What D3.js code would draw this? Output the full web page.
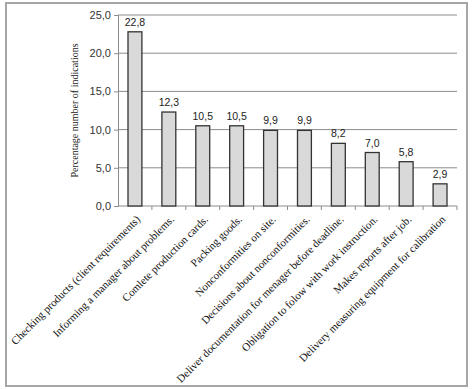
<!DOCTYPE html>
<html>
<head>
<meta charset="utf-8">
<script src="https://cdn.jsdelivr.net/npm/d3@7"></script>
<style>
  body { margin: 0; background: #fff; }
</style>
</head>
<body>
<script>
var categories = ["Checking products (client requirements)",
                  "Informing a manager about problems.",
                  "Comlete production cards.",
                  "Packing goods.",
                  "Nonconformities on site.",
                  "Decisions about nonconformities.",
                  "Deliver documentation for menager before deadline.",
                  "Obligation to folow with work instruction.",
                  "Makes reports after job.",
                  "Delivery measuring equipment for calibration"];
var values = [22.8, 12.3, 10.5, 10.5, 9.9, 9.9, 8.2, 7.0, 5.8, 2.9];
var yTicks = [0, 5, 10, 15, 20, 25];

var width = 474,
    height = 389;

// plot area (note: "top" is taken by window.top, so use plot*)
var plotLeft = 118, plotRight = 457, plotTop = 15, plotBottom = 206;

var svg = d3.select("body")
            .append("svg")
            .attr("width", width)
            .attr("height", height);

// outer frame
svg.append("rect")
   .attr("x", 6).attr("y", 3)
   .attr("width", 461).attr("height", 383)
   .attr("fill", "#fff")
   .attr("stroke", "#a6a6a6")
   .attr("stroke-width", 2);

var x = d3.scaleBand().domain(categories).range([plotLeft, plotRight]).paddingInner(0.59).paddingOuter(0.295),
    xb = d3.scaleBand().domain(categories).range([plotLeft, plotRight]),
    y = d3.scaleLinear().domain([0, 25]).range([plotBottom, plotTop]);

var fmt = function(d) { return d3.format(".1f")(d).replace(".", ","); };

// gridlines
svg.append("g")
   .selectAll("line")
   .data(yTicks.slice(1))
   .enter()
   .append("line")
   .attr("x1", plotLeft).attr("x2", plotRight)
   .attr("y1", function(d) { return y(d); })
   .attr("y2", function(d) { return y(d); })
   .attr("stroke", "#8c8c8c")
   .attr("stroke-width", 1);

// y axis
var ya = svg.append("g")
   .attr("transform", "translate(" + plotLeft + ",0)")
   .call(d3.axisLeft(y).tickValues(yTicks).tickFormat(fmt).tickSize(4).tickPadding(3));
ya.select(".domain").attr("stroke", "#8c8c8c");
ya.selectAll(".tick line").attr("stroke", "#8c8c8c");
ya.selectAll("text")
  .attr("font-family", "'Liberation Sans', Arial, sans-serif")
  .attr("font-size", "11px")
  .attr("fill", "#333");

// x axis line + ticks at category boundaries
svg.append("line")
   .attr("x1", plotLeft).attr("x2", plotRight)
   .attr("y1", plotBottom).attr("y2", plotBottom)
   .attr("stroke", "#8c8c8c");
svg.append("g")
   .selectAll("line")
   .data(categories)
   .enter()
   .append("line")
   .attr("x1", function(d) { return xb(d) + xb.bandwidth(); })
   .attr("x2", function(d) { return xb(d) + xb.bandwidth(); })
   .attr("y1", plotBottom).attr("y2", plotBottom + 4)
   .attr("stroke", "#8c8c8c");

// bars
svg.append("g")
   .selectAll("rect")
   .data(values)
   .enter()
   .append("rect")
   .attr("x", function(d, i) { return x(categories[i]); })
   .attr("y", function(d) { return y(d); })
   .attr("width", x.bandwidth())
   .attr("height", function(d) { return plotBottom - y(d); })
   .attr("fill", "#d9d9d9")
   .attr("stroke", "#333")
   .attr("stroke-width", 1.3);

// value labels
svg.append("g")
   .selectAll("text")
   .data(values)
   .enter()
   .append("text")
   .attr("x", function(d, i) { return x(categories[i]) + x.bandwidth() / 2; })
   .attr("y", function(d) { return y(d) - 6; })
   .attr("text-anchor", "middle")
   .attr("font-family", "'Liberation Sans', Arial, sans-serif")
   .attr("font-size", "10.5px")
   .attr("fill", "#222")
   .text(fmt);

// category labels
svg.append("g")
   .selectAll("text")
   .data(categories)
   .enter()
   .append("text")
   .attr("transform", function(d) {
     return "translate(" + (xb(d) + xb.bandwidth() / 2 + 6) + "," + (plotBottom + 14) + ") rotate(-45)";
   })
   .attr("text-anchor", "end")
   .attr("font-family", "'Liberation Serif', 'Times New Roman', serif")
   .attr("font-size", "11px")
   .attr("fill", "#111")
   .text(function(d) { return d; });

// y title
svg.append("text")
   .attr("transform", "translate(78," + ((plotTop + plotBottom) / 2) + ") rotate(-90)")
   .attr("text-anchor", "middle")
   .attr("font-family", "'Liberation Serif', 'Times New Roman', serif")
   .attr("font-size", "10px")
   .attr("fill", "#222")
   .text("Percentage number of indications");
</script>
</body>
</html>
